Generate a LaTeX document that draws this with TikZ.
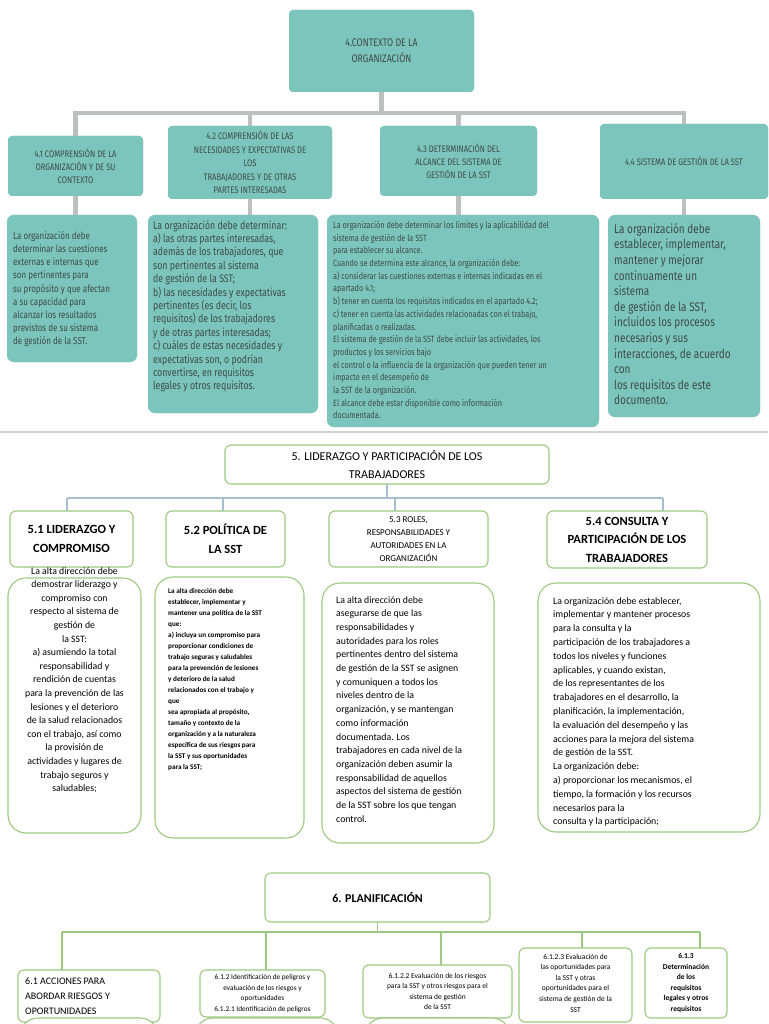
\documentclass[tikz,border=0pt]{standalone}
\usepackage{fontspec}
\setmainfont{Carlito}
\newfontfamily\condf[FakeStretch=0.8]{Fira Sans}
\newfontfamily\calf{Carlito}
\begin{document}
\begin{tikzpicture}[x=1pt,y=-1pt,
  tealbox/.style={fill=teal1,draw=none,rounded corners=4pt},
  tealbig/.style={fill=teal1,draw=none,rounded corners=7pt},
  grnbox/.style={draw=grn,line width=1.1pt,fill=white,rounded corners=6pt},
  grnbig/.style={draw=grn,line width=1.1pt,fill=white,rounded corners=18pt},
  gcon/.style={draw=gry,line width=4.5pt},
  bcon/.style={draw=blu,line width=1.2pt},
  ccon/.style={draw=grn,line width=1.1pt},
  ttop/.style={font=\condf, text=txtc, align=center, inner sep=0pt},
  tcon/.style={font=\condf, text=txtc, align=left, anchor=north west, inner sep=0pt},
  tcal/.style={font=\calf, text=black, inner sep=0pt},
]
\definecolor{teal1}{HTML}{7CC5BC}
\definecolor{grn}{HTML}{9CC97F}
\definecolor{gry}{HTML}{BDBFC1}
\definecolor{blu}{HTML}{A7BFD0}
\definecolor{txtc}{HTML}{3E4B4A}
\newcommand\bx[6]{\node[#6,anchor=north west,minimum width={#4pt-#2pt},minimum height={#5pt-#3pt},inner sep=0pt,outer sep=0pt] (#1) at (#2,#3) {};}
\useasboundingbox[fill=white] (0,0) rectangle (768,1024);

% ---------- Section 4 ----------
\bx{c4}{289}{10}{474}{92}{tealbox}
\bx{c41}{8}{136}{143}{196}{tealbox}
\bx{c42}{168}{126}{332}{199}{tealbox}
\bx{c43}{380}{126}{537}{196}{tealbox}
\bx{c44}{600}{124}{768}{199}{tealbox}
\bx{d41}{7}{215}{137}{362}{tealbig}
\bx{d42}{148}{215}{318}{413}{tealbig}
\bx{d43}{327}{215}{599}{427}{tealbig}
\bx{d44}{608}{215}{760}{417}{tealbig}
\begin{scope}[on background layer/.style={}]
\end{scope}
% connectors (drawn then boxes redrawn on top via order)
\foreach \c in {c41,c42,c43,c44}{\draw[gcon] (c4.south) -- ++(0,21) -| (\c.north);}
\draw[gcon] (75,113) -- (c4.south |- 0,113);
\draw[gcon] (c41.south) -- (d41.north -| c41.south);
\draw[gcon] (c42.south) -- (d42.north -| c42.south);
\draw[gcon] (c43.south) -- (d43.north -| c43.south);
\draw[gcon] (c44.south) -- (d44.north -| c44.south);
% redraw boxes over connectors
\bx{c4}{289}{10}{474}{92}{tealbox}
\bx{c41}{8}{136}{143}{196}{tealbox}
\bx{c42}{168}{126}{332}{199}{tealbox}
\bx{c43}{380}{126}{537}{196}{tealbox}
\bx{c44}{600}{124}{768}{199}{tealbox}
\bx{d41}{7}{215}{137}{362}{tealbig}
\bx{d42}{148}{215}{318}{413}{tealbig}
\bx{d43}{327}{215}{599}{427}{tealbig}
\bx{d44}{608}{215}{760}{417}{tealbig}

\node[ttop,font=\condf\fontsize{11}{16}\selectfont] (t4) at (c4.center) {4.CONTEXTO DE LA\\ORGANIZACIÓN};
\node[ttop,font=\condf\fontsize{9.5}{13}\selectfont] (t41) at (c41.center) {4.1 COMPRENSIÓN DE LA\\ORGANIZACIÓN Y DE SU\\CONTEXTO};
\node[ttop,font=\condf\fontsize{9.5}{13.5}\selectfont] (t42) at (c42.center) {4.2 COMPRENSIÓN DE LAS\\NECESIDADES Y EXPECTATIVAS DE\\LOS\\TRABAJADORES Y DE OTRAS\\PARTES INTERESADAS};
\node[ttop,font=\condf\fontsize{9.5}{13}\selectfont] (t43) at (c43.center) {4.3 DETERMINACIÓN DEL\\ALCANCE DEL SISTEMA DE\\GESTIÓN DE LA SST};
\node[ttop,font=\condf\fontsize{9.5}{13}\selectfont] (t44) at (c44.center) {4.4 SISTEMA DE GESTIÓN DE LA SST};

\node[tcon,font=\condf\fontsize{10}{13.2}\selectfont] (u41) at ([shift={(6,16)}]d41.north west) {La organización debe\\determinar las cuestiones\\externas e internas que\\son pertinentes para\\su propósito y que afectan\\a su capacidad para\\alcanzar los resultados\\previstos de su sistema\\de gestión de la SST.};
\node[tcon,font=\condf\fontsize{11}{13.4}\selectfont] (u42) at ([shift={(5,5)}]d42.north west) {La organización debe determinar:\\a) las otras partes interesadas,\\además de los trabajadores, que\\son pertinentes al sistema\\de gestión de la SST;\\b) las necesidades y expectativas\\pertinentes (es decir, los\\requisitos) de los trabajadores\\y de otras partes interesadas;\\c) cuáles de estas necesidades y\\expectativas son, o podrían\\convertirse, en requisitos\\legales y otros requisitos.};
\node[tcon,font=\condf\fontsize{9.1}{12.7}\selectfont] (u43) at ([shift={(6,6)}]d43.north west) {La organización debe determinar los límites y la aplicabilidad del\\sistema de gestión de la SST\\para establecer su alcance.\\Cuando se determina este alcance, la organización debe:\\a) considerar las cuestiones externas e internas indicadas en el\\apartado 4.1;\\b) tener en cuenta los requisitos indicados en el apartado 4.2;\\c) tener en cuenta las actividades relacionadas con el trabajo,\\planificadas o realizadas.\\El sistema de gestión de la SST debe incluir las actividades, los\\productos y los servicios bajo\\el control o la influencia de la organización que pueden tener un\\impacto en el desempeño de\\la SST de la organización.\\El alcance debe estar disponible como información\\documentada.};
\node[tcon,font=\condf\fontsize{12.5}{15.6}\selectfont] (u44) at ([shift={(6,8)}]d44.north west) {La organización debe\\establecer, implementar,\\mantener y mejorar\\continuamente un\\sistema\\de gestión de la SST,\\incluidos los procesos\\necesarios y sus\\interacciones, de acuerdo\\con\\los requisitos de este\\documento.};

\draw[gry!70,line width=1.5pt] (0,432) -- (768,432);

% ---------- Section 5 ----------
\bx{c5}{225}{445}{549}{484}{grnbox}
\bx{c51}{10}{511}{133}{567}{grnbox}
\bx{c52}{166}{511}{285}{567}{grnbox}
\bx{c53}{329}{511}{488}{567}{grnbox}
\bx{c54}{547}{511}{707}{568}{grnbox}
\coordinate (b51) at (67,498);
\coordinate (b52) at (223,498);
\coordinate (b53) at (395,498);
\coordinate (b54) at (663,498);
\draw[bcon] (b51) -- (b54);
\draw[bcon] (c5.south) -- (c5.south |- b51);
\draw[bcon] (b51) -- (b51 |- c51.north);
\draw[bcon] (b52) -- (b52 |- c52.north);
\draw[bcon] (b53) -- (b53 |- c53.north);
\draw[bcon] (b54) -- (b54 |- c54.north);
\bx{d51}{8}{578}{141}{833}{grnbig}
\bx{d52}{155}{577}{304}{838}{grnbig}
\bx{d53}{322}{583}{494}{843}{grnbig}
\bx{d54}{538}{583}{760}{832}{grnbig}

\node[tcal,align=center,font=\calf\fontsize{12}{18}\selectfont] (t5) at (c5.center) {5. LIDERAZGO Y PARTICIPACIÓN DE LOS\\TRABAJADORES};
\node[tcal,align=center,font=\calf\bfseries\fontsize{12.5}{19}\selectfont] (t51) at (c51.center) {5.1 LIDERAZGO Y\\COMPROMISO};
\node[tcal,align=center,font=\calf\bfseries\fontsize{12.5}{19}\selectfont] (t52) at (c52.center) {5.2 POLÍTICA DE\\LA SST};
\node[tcal,align=center,font=\calf\fontsize{9}{13}\selectfont] (t53) at (c53.center) {5.3 ROLES,\\RESPONSABILIDADES Y\\AUTORIDADES EN LA\\ORGANIZACIÓN};
\node[tcal,align=center,font=\calf\bfseries\fontsize{12.5}{18.5}\selectfont] (t54) at (c54.center) {5.4 CONSULTA Y\\PARTICIPACIÓN DE LOS\\TRABAJADORES};

\node[tcal,align=center,anchor=north,font=\calf\fontsize{9.8}{13.6}\selectfont] (u51) at ([yshift=11]d51.north) {La alta dirección debe\\demostrar liderazgo y\\compromiso con\\respecto al sistema de\\gestión de\\la SST:\\a) asumiendo la total\\responsabilidad y\\rendición de cuentas\\para la prevención de las\\lesiones y el deterioro\\de la salud relacionados\\con el trabajo, así como\\la provisión de\\actividades y lugares de\\trabajo seguros y\\saludables;};
\node[tcal,align=left,anchor=north west,font=\calf\bfseries\fontsize{7.2}{11}\selectfont] (u52) at ([shift={(13,11)}]d52.north west) {La alta dirección debe\\establecer, implementar y\\mantener una política de la SST\\que:\\a) incluya un compromiso para\\proporcionar condiciones de\\trabajo seguras y saludables\\para la prevención de lesiones\\y deterioro de la salud\\relacionados con el trabajo y\\que\\sea apropiada al propósito,\\tamaño y contexto de la\\organización y a la naturaleza\\específica de sus riesgos para\\la SST y sus oportunidades\\para la SST;};
\node[tcal,align=left,anchor=north west,font=\calf\fontsize{9.8}{13.7}\selectfont] (u53) at ([shift={(0,13)}]d53.north west) {};
\node[tcal,align=left,anchor=north west,font=\calf\fontsize{9.8}{13.7}\selectfont] (u53b) at ([shift={(0,13)}]d53.north west -| 322+0,0) {};
\node[tcal,align=left,anchor=north west,font=\calf\fontsize{9.8}{13.7}\selectfont] (u53c) at (336,596) {La alta dirección debe\\asegurarse de que las\\responsabilidades y\\autoridades para los roles\\pertinentes dentro del sistema\\de gestión de la SST se asignen\\y comuniquen a todos los\\niveles dentro de la\\organización, y se mantengan\\como información\\documentada. Los\\trabajadores en cada nivel de la\\organización deben asumir la\\responsabilidad de aquellos\\aspectos del sistema de gestión\\de la SST sobre los que tengan\\control.};
\node[tcal,align=left,anchor=north west,font=\calf\fontsize{9.8}{13.8}\selectfont] (u54) at (553,597) {La organización debe establecer,\\implementar y mantener procesos\\para la consulta y la\\participación de los trabajadores a\\todos los niveles y funciones\\aplicables, y cuando existan,\\de los representantes de los\\trabajadores en el desarrollo, la\\planificación, la implementación,\\la evaluación del desempeño y las\\acciones para la mejora del sistema\\de gestión de la SST.\\La organización debe:\\a) proporcionar los mecanismos, el\\tiempo, la formación y los recursos\\necesarios para la\\consulta y la participación;};

% ---------- Section 6 ----------
\bx{c6}{265}{873}{490}{922}{grnbox}
\bx{c61}{18}{970}{160}{1022}{grnbox}
\bx{c612}{200}{970}{325}{1017}{grnbox}
\bx{c6122}{363}{965}{512}{1018}{grnbox}
\bx{c6123}{519}{948}{632}{1022}{grnbox}
\bx{c613}{645}{948}{727}{1018}{grnbox}
\coordinate (k1) at (62,932);
\coordinate (k2) at (266,932);
\coordinate (k3) at (441,932);
\coordinate (k4) at (582,932);
\coordinate (k5) at (700,932);
\draw[ccon] (k1) -- (k5);
\draw[ccon] (c6.south) -- (c6.south |- k1);
\draw[ccon] (k1) -- (k1 |- c61.north);
\draw[ccon] (k2) -- (k2 |- c612.north);
\draw[ccon] (k3) -- (k3 |- c6122.north);
\draw[ccon] (k4) -- (k4 |- c6123.north);
\draw[ccon] (k5) -- (k5 |- c613.north);
\bx{e61}{20}{1018}{158}{1060}{grnbig}
\bx{e612}{195}{1018}{338}{1060}{grnbig}
\bx{e6122}{365}{1018}{510}{1060}{grnbig}

\node[tcal,align=center,font=\calf\bfseries\fontsize{12}{16}\selectfont] (t6) at (c6.center) {6. PLANIFICACIÓN};
\node[tcal,align=left,anchor=west,font=\calf\fontsize{10}{15}\selectfont] (t61) at ([xshift=7]c61.west) {6.1 ACCIONES PARA\\ABORDAR RIESGOS Y\\OPORTUNIDADES};
\node[tcal,align=center,font=\calf\fontsize{7.3}{10.5}\selectfont] (t612) at (c612.center) {6.1.2 Identificación de peligros y\\evaluación de los riesgos y\\oportunidades\\6.1.2.1 Identificación de peligros};
\node[tcal,align=center,font=\calf\fontsize{7.5}{10.5}\selectfont] (t6122) at (c6122.center) {6.1.2.2 Evaluación de los riesgos\\para la SST y otros riesgos para el\\sistema de gestión\\de la SST};
\node[tcal,align=center,font=\calf\fontsize{7.5}{10.6}\selectfont] (t6123) at ([yshift=2]c6123.center) {6.1.2.3 Evaluación de\\las oportunidades para\\la SST y otras\\oportunidades para el\\sistema de gestión de la\\SST};
\node[tcal,align=center,font=\calf\bfseries\fontsize{7.5}{10.6}\selectfont] (t613) at (c613.center) {6.1.3\\Determinación\\de los\\requisitos\\legales y otros\\requisitos};
\end{tikzpicture}
\end{document}
